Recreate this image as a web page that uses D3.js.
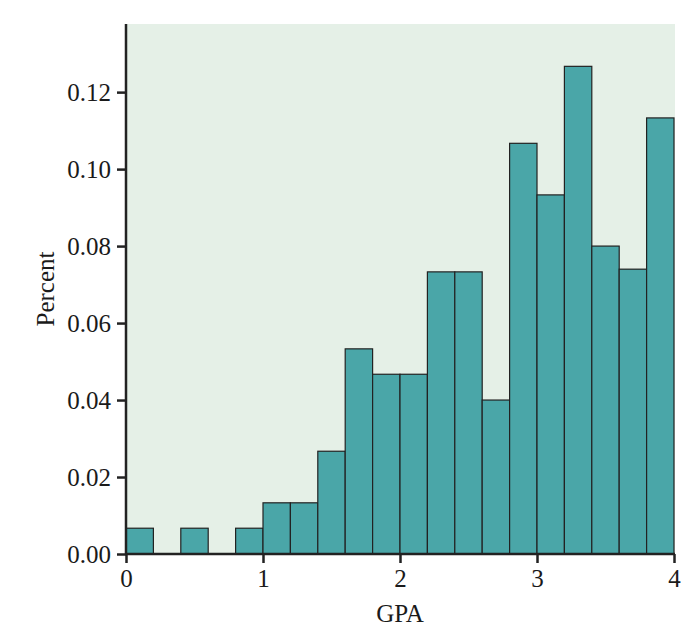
<!DOCTYPE html>
<html>
<head>
<meta charset="utf-8">
<script src="https://cdn.jsdelivr.net/npm/d3@7"></script>
<style>
  body { margin: 0; background: #fff; }
  text { font-family: "Liberation Serif", "DejaVu Serif", serif; fill: #1a1a1a; }
</style>
</head>
<body>
<svg id="chart" width="700" height="638"></svg>
<script>
// GPA histogram, bins of width 0.2
const binStarts = [0, 0.2, 0.4, 0.6, 0.8, 1.0, 1.2, 1.4, 1.6, 1.8,
                   2.0, 2.2, 2.4, 2.6, 2.8, 3.0, 3.2, 3.4, 3.6, 3.8];
const percents = [0.0067, 0, 0.0067, 0, 0.0067, 0.0133, 0.0133, 0.0267, 0.0533, 0.0467,
                  0.0467, 0.0733, 0.0733, 0.040, 0.1067, 0.0933, 0.1267, 0.080, 0.074, 0.1133];
const binWidth = 0.2;
const xTicks = [0, 1, 2, 3, 4];
const yTicks = [0, 0.02, 0.04, 0.06, 0.08, 0.10, 0.12];

const margin = { top: 24, left: 126, right: 26, bottom: 84 };
const W = 700, H = 638;
const yMax = 0.1377;

const svg = d3.select('#chart');

const x = d3.scaleLinear().domain([0, 4]).range([margin.left, W - margin.right]);
const y = d3.scaleLinear().domain([0, yMax]).range([H - margin.bottom, margin.top]);

// plot background
svg.append('rect')
  .attr('x', x(0)).attr('y', y(yMax))
  .attr('width', x(4) - x(0) + 1).attr('height', y(0) - y(yMax))
  .attr('fill', '#e5f0e7');

// bars
svg.append('g')
  .selectAll('rect')
  .data(binStarts.map((s, i) => ({ s, v: percents[i] })).filter(d => d.v > 0))
  .join('rect')
  .attr('x', d => x(d.s))
  .attr('y', d => y(d.v))
  .attr('width', d => x(d.s + binWidth) - x(d.s))
  .attr('height', d => y(0) - y(d.v))
  .attr('fill', '#4aa6a8')
  .attr('stroke', '#222')
  .attr('stroke-width', 1.2);

// axes
const xAxis = svg.append('g')
  .attr('transform', `translate(0,${y(0)})`)
  .call(d3.axisBottom(x).tickValues(xTicks).tickFormat(d3.format('d')).tickSizeOuter(0).tickSize(9).tickPadding(6));

const yAxis = svg.append('g')
  .attr('transform', `translate(${x(0)},0)`)
  .call(d3.axisLeft(y).tickValues(yTicks).tickFormat(d3.format('.2f')).tickSizeOuter(0).tickSize(9).tickPadding(6));

[xAxis, yAxis].forEach(g => {
  g.select('.domain').attr('stroke', '#222').attr('stroke-width', 2.5);
  g.selectAll('.tick line').attr('stroke', '#222').attr('stroke-width', 2.5);
  g.selectAll('.tick text')
    .attr('font-family', '"Liberation Serif", serif')
    .attr('font-size', 25)
    .attr('fill', '#1a1a1a');
});
// plain domain lines without end caps
xAxis.select('.domain').attr('d', `M${x(0) - 1},0H${x(4) + 1}`);
yAxis.select('.domain').attr('d', `M0,${y(yMax)}V${y(0) + 1}`);

// axis titles
svg.append('text')
  .attr('x', (x(0) + x(4)) / 2).attr('y', 622)
  .attr('text-anchor', 'middle')
  .attr('font-size', 25)
  .text('GPA');

svg.append('text')
  .attr('transform', `translate(54,${(y(0) + y(yMax)) / 2}) rotate(-90)`)
  .attr('text-anchor', 'middle')
  .attr('font-size', 25)
  .text('Percent');
</script>
</body>
</html>
